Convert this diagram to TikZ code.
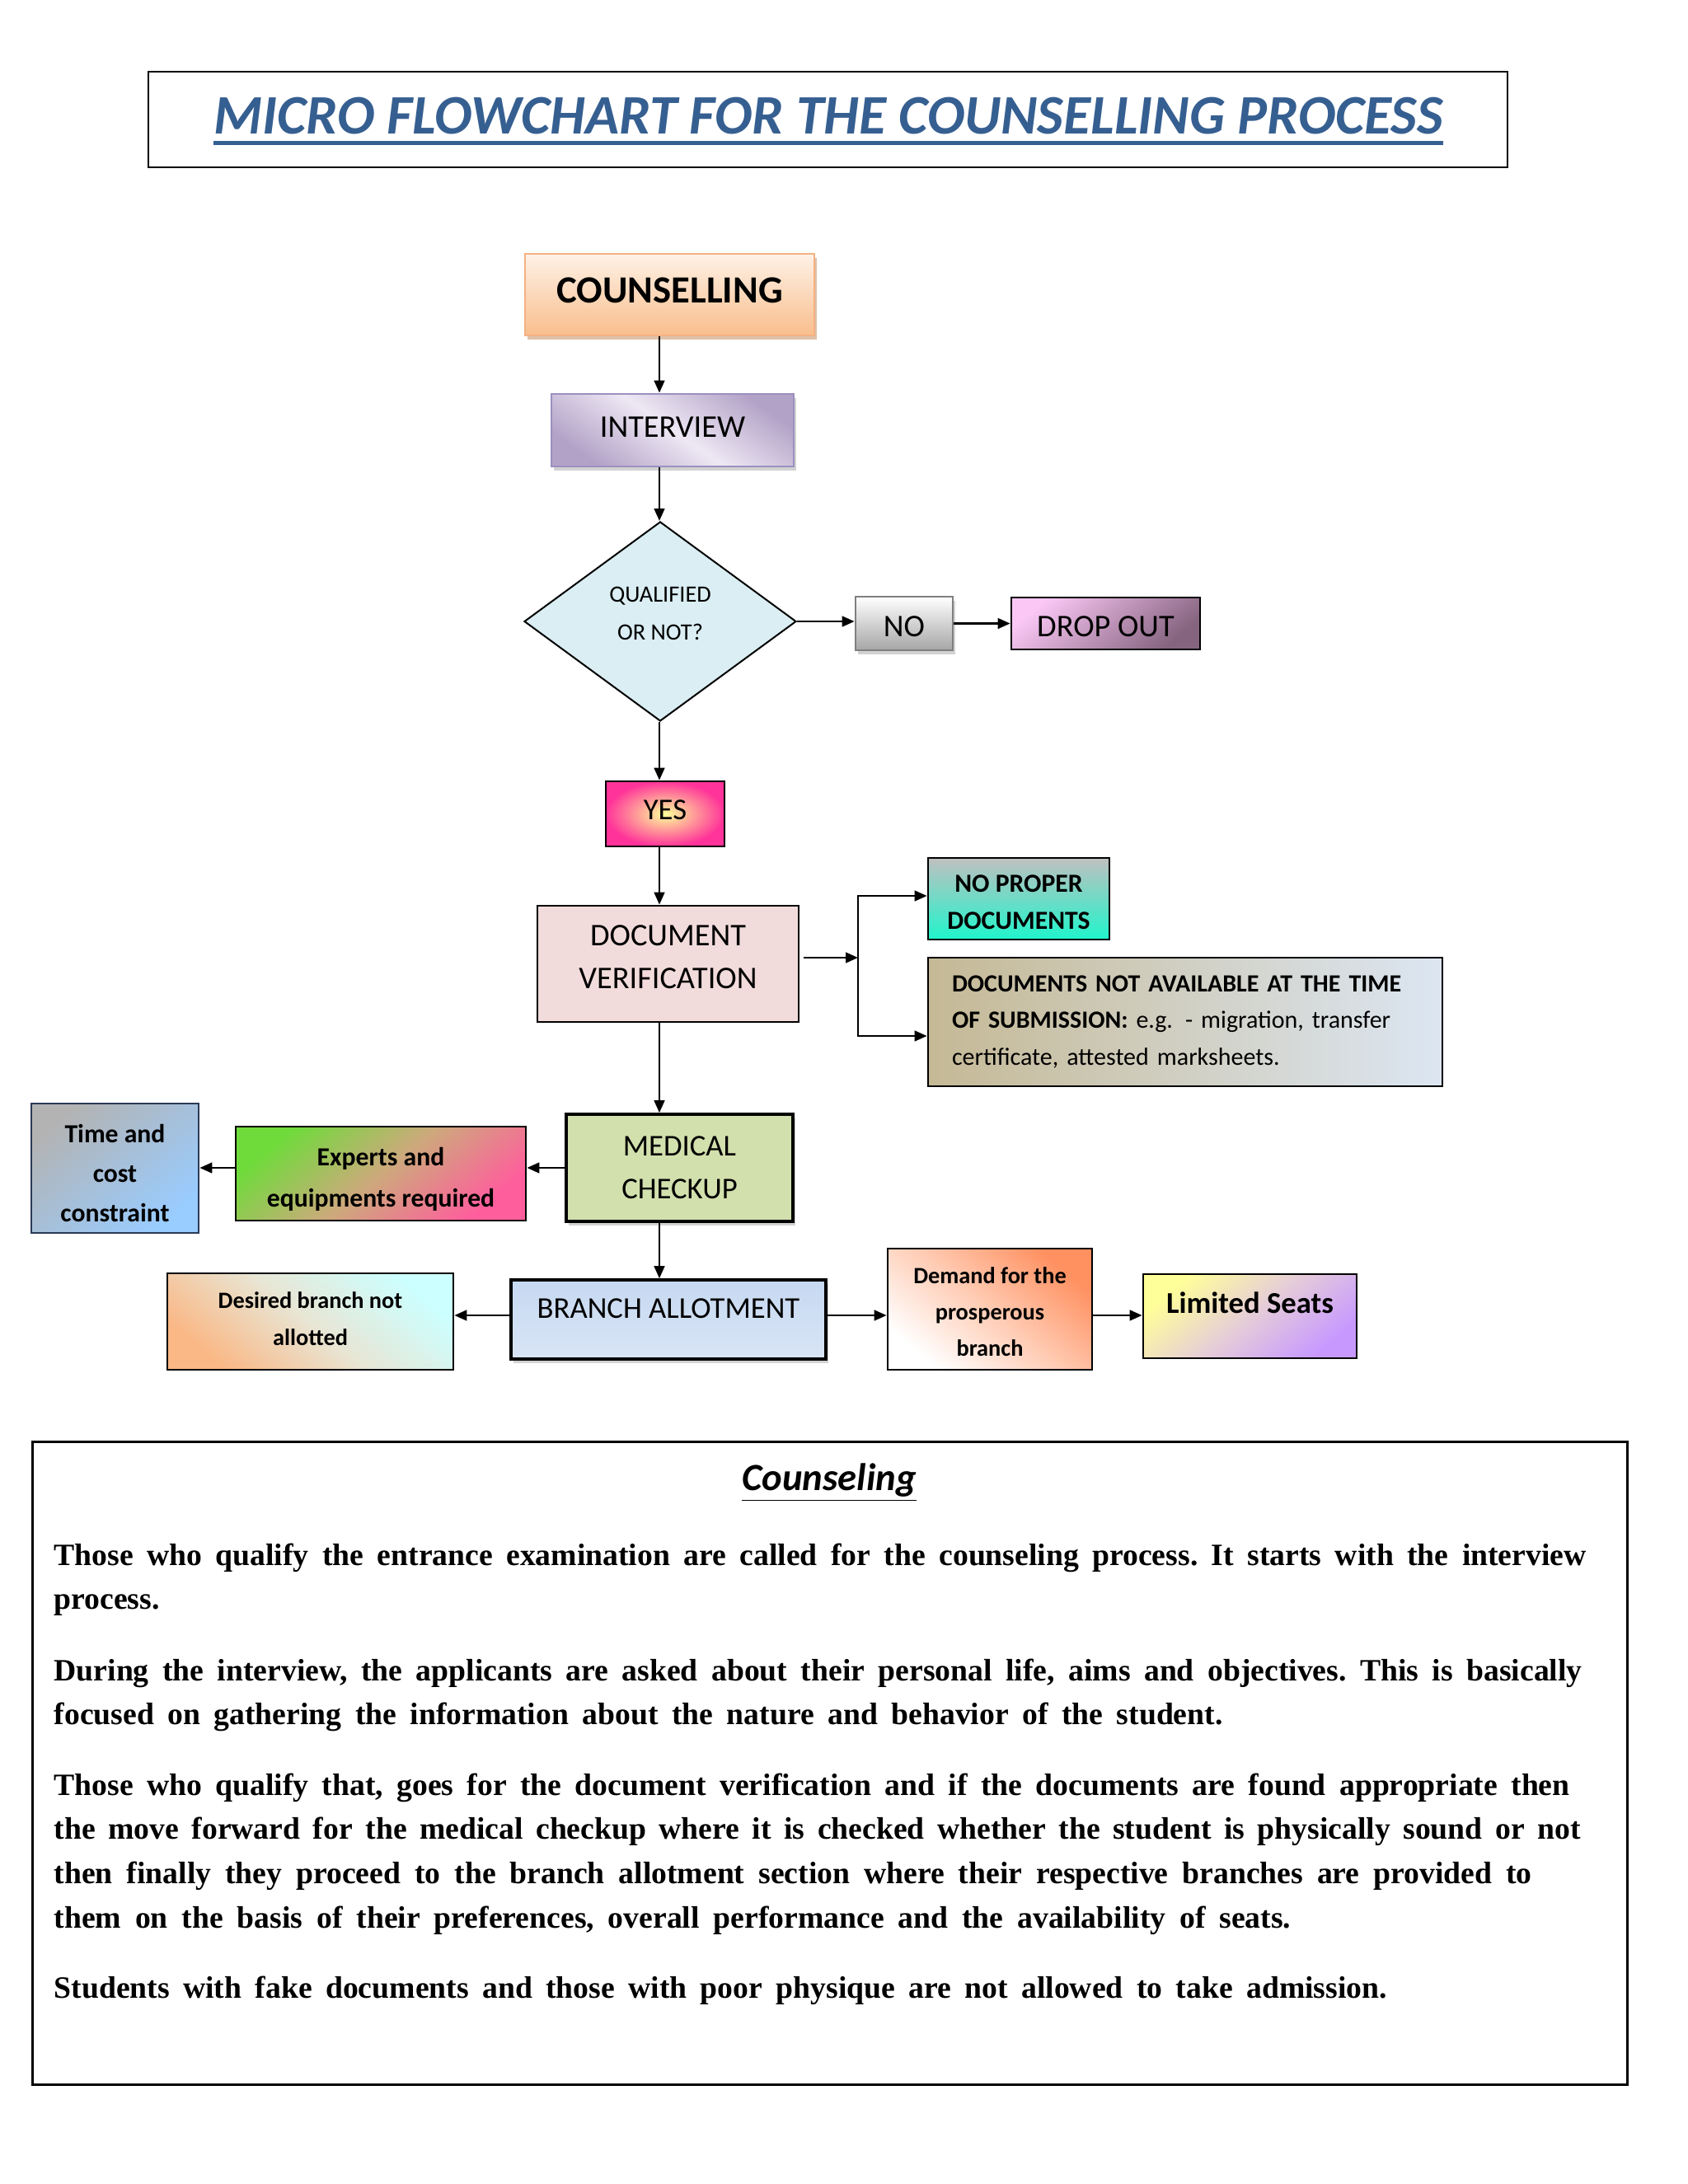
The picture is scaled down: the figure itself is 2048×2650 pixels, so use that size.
\documentclass[tikz,border=0pt]{standalone}
\usepackage{fontspec}
\setmainfont{Carlito}
\newfontfamily\bodyfont{Liberation Serif}
\usetikzlibrary{shapes.geometric,arrows.meta,shadows}
\newlength\parwd
\setlength\parwd{558.3pt}
\newcommand\jline[2]{\leavevmode\hbox to #1{\frenchspacing\spaceskip=\fontdimen2\font plus 1fil\relax\xspaceskip=0pt\relax #2}}
\newcommand\upst[1]{\rule{0pt}{#1}}
\definecolor{titleblue}{HTML}{365F91}
\definecolor{counsTop}{HTML}{FEF1E6}
\definecolor{counsBot}{HTML}{F9BE8C}
\definecolor{counsLine}{HTML}{F4B183}
\definecolor{intDark}{HTML}{B3A2C7}
\definecolor{intLight}{HTML}{EEE8F4}
\definecolor{intLine}{HTML}{9C90C0}
\definecolor{diaFill}{HTML}{DAEEF3}
\definecolor{noBot}{HTML}{A6A6A6}
\definecolor{noLine}{HTML}{7F7F7F}
\definecolor{dropA}{HTML}{FBC8F6}
\definecolor{dropB}{HTML}{85647F}
\definecolor{yesIn}{HTML}{FFFF99}
\definecolor{yesOut}{HTML}{FF3399}
\definecolor{dvFill}{HTML}{F2DCDB}
\definecolor{npTop}{HTML}{C0C0C0}
\definecolor{npBot}{HTML}{1FF5CC}
\definecolor{dnaL}{HTML}{C5B995}
\definecolor{dnaR}{HTML}{DCE6F2}
\definecolor{mcFill}{HTML}{D2E0AD}
\definecolor{exA}{HTML}{6FDB3B}
\definecolor{exM}{HTML}{CDA97C}
\definecolor{exB}{HTML}{FF5E9C}
\definecolor{tmA}{HTML}{B3B3B3}
\definecolor{tmB}{HTML}{99CCFF}
\definecolor{tmLine}{HTML}{2B3A55}
\definecolor{baTop}{HTML}{C6D9F1}
\definecolor{baBot}{HTML}{D9E5F6}
\definecolor{desA}{HTML}{CCFFFF}
\definecolor{desM}{HTML}{E8E6D5}
\definecolor{desB}{HTML}{FAB886}
\definecolor{demA}{HTML}{FF9060}
\definecolor{demM}{HTML}{FFCBB3}
\definecolor{limA}{HTML}{FFFF99}
\definecolor{limM}{HTML}{E6CDD8}
\definecolor{limB}{HTML}{C799FF}
\begin{document}
\begin{tikzpicture}[x=0.3pt,y=-0.3pt,
  bx/.style={draw, inner sep=0pt, align=center, line width=0.8pt},
  arr/.style={line width=0.75pt, -{Triangle[length=4.5pt,width=3.8pt]}},
  shad/.style={drop shadow={shadow xshift=1pt, shadow yshift=-1.6pt, opacity=0.35}},
  para/.style={inner sep=0pt, anchor=north west, text width=\parwd, align=left,
    font=\bodyfont\bfseries\fontsize{11.3}{16.1}\selectfont}
]
\useasboundingbox (0,0) rectangle (2048,2650);
\fill[white] (0,0) rectangle (2048,2650);

% title
\node[draw, line width=0.8pt, inner sep=0pt, minimum width=494.7pt, minimum height=34.8pt] (titleframe) at (1004.5,145) {};
\node[anchor=base, inner sep=0pt, text=titleblue, font=\fontsize{20.3}{24}\selectfont\bfseries\itshape] (title) at (1005,162) {MICRO FLOWCHART FOR THE COUNSELLING PROCESS};
\draw[titleblue, line width=1.5pt] ([yshift=-3.4pt]title.base west) -- ([yshift=-3.4pt]title.base east);

\coordinate (axis) at (800,0);

% nodes
\node[bx, draw=counsLine, top color=counsTop, bottom color=counsBot, text depth=3pt,
  drop shadow={shadow xshift=1pt, shadow yshift=-1.6pt, fill=counsBot!80!black, opacity=0.6},
  minimum width=105.3pt, minimum height=29.7pt, font=\fontsize{14}{16}\selectfont\bfseries] (couns) at (812.5,357.5) {COUNSELLING};

\node[bx, draw=intLine, top color=intDark, bottom color=intDark, middle color=intLight, shading angle=-35, shad, text depth=2pt,
  minimum width=88.2pt, minimum height=26.4pt, font=\fontsize{11.5}{14}\selectfont] (inter) at (816,522) {INTERVIEW};

\node[draw, shape=diamond, aspect=1.36, fill=diaFill, inner sep=0pt, line width=0.6pt, minimum width=99pt, minimum height=72.6pt,
  align=center, text depth=6pt, font=\fontsize{8.5}{13.8}\selectfont] (qual) at (801,754) {QUALIFIED\\OR NOT?};

\node[bx, draw=noLine, top color=white, bottom color=noBot, shad, text height=9.4pt, text depth=0pt,
  minimum width=35.4pt, minimum height=19.5pt, font=\fontsize{11.5}{14}\selectfont] (no) at (1097,756.5) {NO};

\node[bx, top color=dropA, bottom color=dropB, shading angle=40, text height=9.4pt, text depth=0pt,
  minimum width=68.7pt, minimum height=18.9pt, font=\fontsize{11.5}{14}\selectfont] (drop) at (1341.5,756.5) {DROP OUT};

\node[bx, inner color=yesIn, outer color=yesOut, text depth=3pt,
  minimum width=43.2pt, minimum height=23.7pt, font=\fontsize{11}{14}\selectfont] (yes) at (807,987.5) {YES};

\node[bx, fill=dvFill, minimum width=95.1pt, minimum height=42.3pt, text depth=5pt,
  font=\fontsize{11.5}{15.6}\selectfont] (dv) at (810.5,1169.5) {DOCUMENT\\VERIFICATION};

\node[bx, top color=npTop, bottom color=npBot, minimum width=66pt, minimum height=29.7pt,
  font=\fontsize{9.5}{13.5}\selectfont\bfseries] (np) at (1236,1090.5) {\upst{9pt}NO PROPER\\DOCUMENTS};

\node[draw, line width=0.8pt, left color=dnaL, right color=dnaR, inner xsep=8.7pt, inner ysep=0pt,
  text width=169.8pt, minimum height=46.8pt, align=left,
  font=\fontsize{9}{13.4}\selectfont] (dna) at (1438,1240)
  {\textbf{DOCUMENTS NOT AVAILABLE AT THE TIME}\\\textbf{OF SUBMISSION:} e.g. - migration, transfer\\certificate, attested marksheets.};

\node[bx, line width=1.1pt, fill=mcFill, shad, minimum width=82.5pt, minimum height=39pt,
  font=\fontsize{11}{15.6}\selectfont] (mc) at (824.5,1417) {MEDICAL\\CHECKUP};

\node[bx, top color=exA, bottom color=exB, middle color=exM, shading angle=40, text depth=0pt,
  minimum width=105.6pt, minimum height=34.2pt, font=\fontsize{9.5}{15}\selectfont\bfseries] (ex) at (462,1424) {\upst{9pt}Experts and\\equipments required};

\node[bx, draw=tmLine, top color=tmA, bottom color=tmB, shading angle=40,
  minimum width=60.9pt, minimum height=47.1pt, font=\fontsize{9.5}{14.4}\selectfont\bfseries] (time) at (139.5,1417.5) {\upst{10pt}Time and\\cost\\constraint};

\node[bx, line width=1.1pt, top color=baTop, bottom color=baBot, shad,
  minimum width=114.6pt, minimum height=28.8pt, text depth=7.8pt, font=\fontsize{11}{14}\selectfont] (ba) at (811,1601) {BRANCH ALLOTMENT};

\node[bx, top color=desA, bottom color=desB, middle color=desM, shading angle=-40, text depth=2pt,
  minimum width=104.1pt, minimum height=35.1pt, font=\fontsize{8.5}{13.5}\selectfont\bfseries] (des) at (376.5,1603.5) {Desired branch not\\allotted};

\node[bx, top color=demA, bottom color=white, middle color=demM, shading angle=-40,
  minimum width=74.4pt, minimum height=44.1pt, font=\fontsize{8.5}{13.2}\selectfont\bfseries] (dem) at (1201,1588.5) {\upst{8pt}Demand for the\\prosperous\\branch};

\node[bx, top color=limA, bottom color=limB, middle color=limM, shading angle=40,
  minimum width=77.7pt, minimum height=30.6pt, text depth=10pt, font=\fontsize{11}{14}\selectfont\bfseries] (lim) at (1516.5,1597) {Limited Seats};

% connectors
\coordinate (split) at (1041,1162);
\coordinate (brtop) at (1041,1087);
\coordinate (brbot) at (1041,1257);
\draw[arr] (couns.south -| axis) -- (inter.north -| axis);
\draw[arr] (inter.south -| axis) -- (qual.north -| axis);
\draw[arr] (qual.east) -- (qual.east -| no.west);
\draw[arr] (no.east) -- (no.east -| drop.west);
\draw[arr] (qual.south -| axis) -- (yes.north -| axis);
\draw[arr] (yes.south -| axis) -- (dv.north -| axis);
\draw[arr] ([xshift=1.5pt]dv.east |- split) -- (split);
\draw[arr] (brbot) -- (brtop) -- (brtop -| np.west);
\draw[arr] (brtop) -- (brbot) -- (brbot -| dna.west);
\draw[arr] (dv.south -| axis) -- (mc.north -| axis);
\draw[arr] (mc.west) -- (mc.west -| ex.east);
\draw[arr] (ex.west |- mc.west) -- (time.east |- mc.west);
\draw[arr] (mc.south -| axis) -- (ba.north -| axis);
\draw[arr] ([yshift=1.5pt]ba.west) -- ([yshift=1.5pt]ba.west -| des.east);
\draw[arr] ([yshift=1.5pt]ba.east) -- ([yshift=1.5pt]ba.east -| dem.west);
\draw[arr] ([yshift=1.5pt]dem.east |- ba.east) -- ([yshift=1.5pt]lim.west |- ba.east);

% text box
\node[draw, line width=0.9pt, inner sep=0pt, minimum width=580.5pt, minimum height=234pt] (txtbox) at (1006.5,2139) {};
\node[anchor=base, inner sep=0pt, font=\fontsize{14}{16}\selectfont\bfseries\itshape] (head) at (1006,1808) {\underline{Counseling}};
\node[para] (p1) at (65,1872) {\jline{557.7pt}{Those who qualify the entrance examination are called for the counseling process. It starts with the interview}\\process.};
\node[para] (p2) at (65,2012) {\jline{556.2pt}{During the interview, the applicants are asked about their personal life, aims and objectives. This is basically}\\\jline{425.4pt}{focused on gathering the information about the nature and behavior of the student.}};
\node[para] (p3) at (65,2151) {\jline{551.7pt}{Those who qualify that, goes for the document verification and if the documents are found appropriate then}\\\jline{555.6pt}{the move forward for the medical checkup where it is checked whether the student is physically sound or not}\\\jline{537.9pt}{then finally they proceed to the branch allotment section where their respective branches are provided to}\\\jline{450.2pt}{them on the basis of their preferences, overall performance and the availability of seats.}};
\node[para] (p4) at (65,2397) {\jline{485.2pt}{Students with fake documents and those with poor physique are not allowed to take admission.}};
\end{tikzpicture}
\end{document}
